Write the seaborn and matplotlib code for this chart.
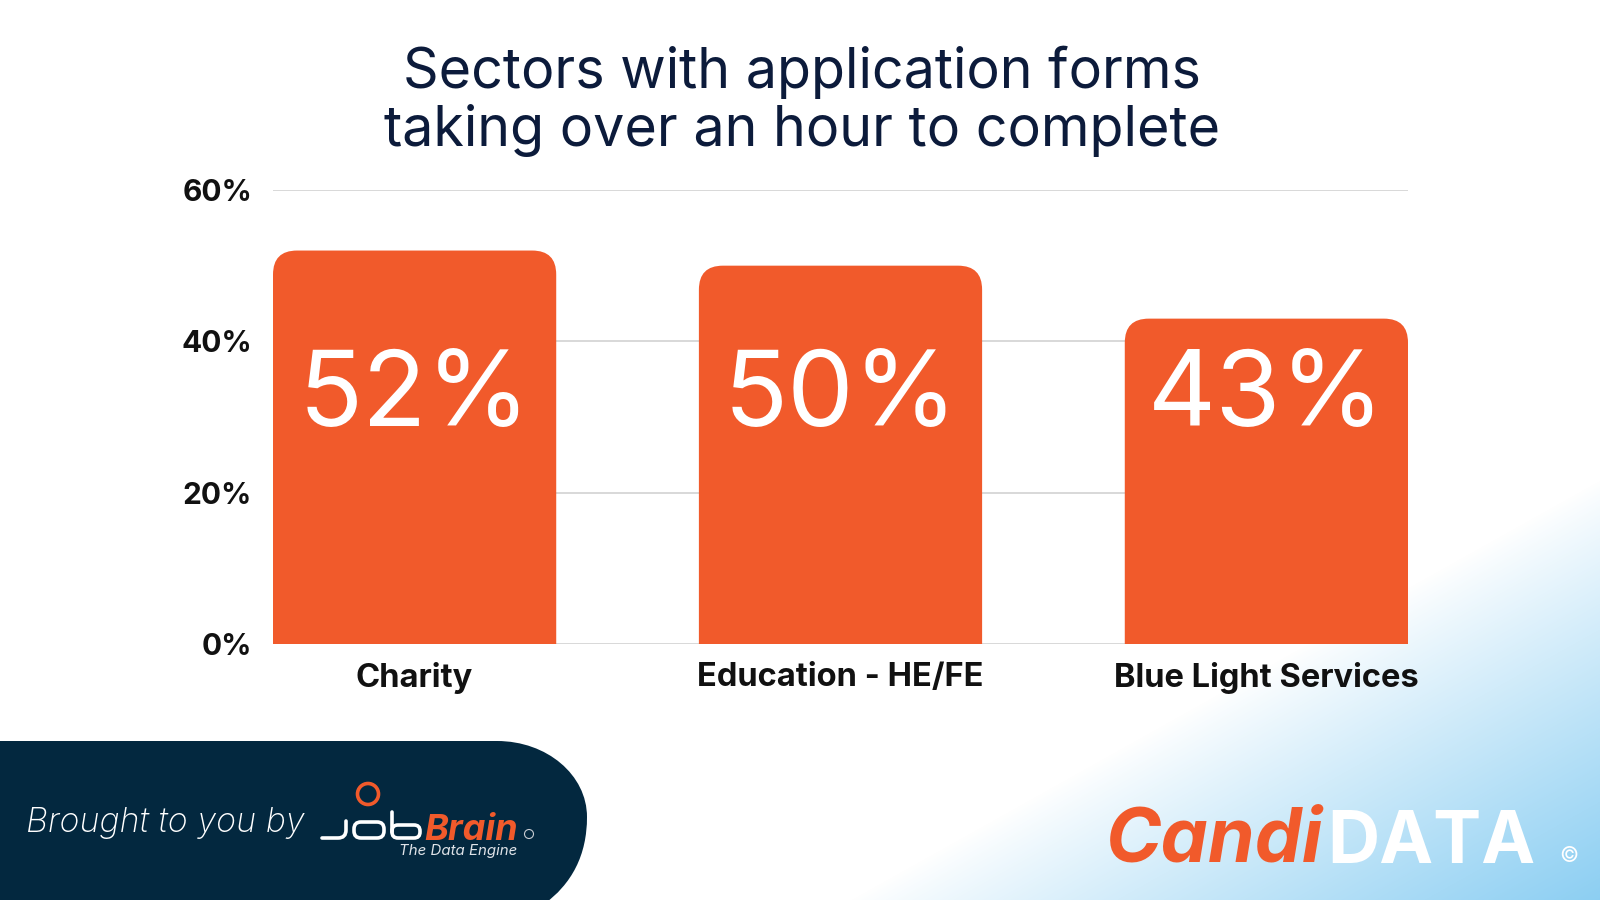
# libraries
import seaborn as sns
import matplotlib.pyplot as plt
import pandas as pd
import numpy as np
from matplotlib.patches import FancyBboxPatch, PathPatch, Circle
from matplotlib.path import Path

# data
sectors = ["Charity", "Education - HE/FE", "Blue Light Services"]
shares = [52, 50, 43]
y_ticks = [0, 20, 40, 60]
title_lines = ["Sectors with application forms", "taking over an hour to complete"]

orange = "#F15A2B"
navy = "#03283F"
title_color = "#0C1B3B"

df = pd.DataFrame({"sector": sectors, "share": shares})

sns.set_theme(style="white")
plt.rcParams['font.family'] = ['Inter', 'DejaVu Sans']

W, H = 1600, 900
fig = plt.figure(figsize=(16, 9), dpi=100)

# background: white with a light blue corner in the bottom right
bg = fig.add_axes([0, 0, 1, 1], zorder=-10)
yy, xx = np.mgrid[0:H, 0:W]
t = ((xx - 850) * 0.489 + (yy - 900) * 0.873) / 367
t = np.clip(t, 0, 1) ** 0.9
blue = np.array([0.55, 0.81, 0.95])
img = 1 - (1 - blue)[None, None, :] * t[:, :, None]
bg.imshow(img, extent=(0, W, H, 0), aspect="auto")
bg.set_xlim(0, W)
bg.set_ylim(H, 0)
bg.axis("off")

# navy banner, bottom left
verts = [(0, 741), (497, 741), (547, 741), (587, 775), (587, 817),
         (587, 855), (572, 884), (543, 905), (0, 905), (0, 741)]
codes = [Path.MOVETO, Path.LINETO, Path.CURVE4, Path.CURVE4, Path.CURVE4,
         Path.CURVE4, Path.CURVE4, Path.CURVE4, Path.LINETO, Path.CLOSEPOLY]
bg.add_patch(PathPatch(Path(verts, codes), fc=navy, ec="none"))

bg.text(26, 832, "Brought to you by", color="white", fontsize=24.5, style="italic",
        fontweight="light", va="baseline", ha="left")

# JobBrain logo
lw = 2.6
bg.add_patch(PathPatch(Path([(322, 838), (338, 838), (346, 838), (346, 830), (346, 821)],
                            [Path.MOVETO, Path.LINETO, Path.CURVE3, Path.CURVE3, Path.LINETO]),
                       fc="none", ec="white", lw=lw, capstyle="round"))
bg.add_patch(FancyBboxPatch((354, 822), 30, 16, boxstyle="round,pad=0,rounding_size=7",
                            fc="none", ec="white", lw=lw))
bg.plot([392, 392], [812, 832], color="white", lw=lw, solid_capstyle="round")
bg.add_patch(FancyBboxPatch((392, 825), 28, 13, boxstyle="round,pad=0,rounding_size=6",
                            fc="none", ec="white", lw=lw))
bg.add_patch(Circle((368, 794), 10.5, fc="none", ec=orange, lw=2.6))
bg.text(424, 840, "Brain", color=orange, fontsize=26, fontweight="bold", style="italic",
        va="baseline", ha="left")
bg.add_patch(Circle((529, 834), 4.5, fc="none", ec="#c8ccd2", lw=0.8))
bg.text(399, 855, "The Data Engine", color="#dfe3e8", fontsize=10.8, style="italic",
        va="baseline", ha="left")

# Candidata logo
candi = bg.text(1106, 862, "Candi", color=orange, fontsize=54, fontweight="bold",
                style="italic", va="baseline", ha="left")
bg.annotate("DATA", xy=(1, 0), xycoords=candi, xytext=(3, 0), textcoords="offset points",
            color="white", fontsize=52, fontweight="bold", va="bottom", ha="left")
bg.text(1569, 862, "©", color="white", fontsize=15, va="baseline", ha="center")

# title
fig.text(802, H - 88, title_lines[0], transform=None, fontsize=40, color=title_color,
         ha="center", va="baseline")
fig.text(802, H - 146, title_lines[1], transform=None, fontsize=40, color=title_color,
         ha="center", va="baseline")

# chart axes
left, right, top, bottom = 273, 1408, 190, 644
ax = fig.add_axes([left / W, (H - bottom) / H, (right - left) / W, (bottom - top) / H])
ax.set_facecolor("none")

bar_width = 0.665
sns.barplot(data=df, x="sector", y="share", color=orange, saturation=1,
            width=bar_width, ax=ax, zorder=2)
ax.set_xlim(-bar_width / 2, len(sectors) - 1 + bar_width / 2)
ax.set_ylim(0, 60)

# rounded top corners for the bars
px_x = (right - left) / (ax.get_xlim()[1] - ax.get_xlim()[0])
px_y = (bottom - top) / 60
radius_px = 24
rx = radius_px / px_x
ry = radius_px / px_y
for bar in list(ax.patches):
    x0, w, h = bar.get_x(), bar.get_width(), bar.get_height()
    bar.remove()
    ax.add_patch(FancyBboxPatch((x0, -ry), w, h + ry,
                                boxstyle=f"round,pad=0,rounding_size={rx}",
                                mutation_aspect=ry / rx, fc=orange, ec="none", zorder=2))

# value labels inside the bars
for i, v in enumerate(shares):
    ax.text(i, 28.8, f"{v}%", ha="center", va="baseline", color="white",
            fontsize=76, fontweight="normal", zorder=3)

ax.set_yticks(y_ticks)
ax.set_yticklabels([f"{v}%" for v in y_ticks], fontsize=21.5, fontweight="bold", color="#111111")
ax.set_xticks(range(len(sectors)))
ax.set_xticklabels(sectors, fontsize=23.5, fontweight="bold", color="#111111")
ax.tick_params(axis="y", length=0, pad=15)
ax.tick_params(axis="x", length=0, pad=13)
ax.set_xlabel("")
ax.set_ylabel("")
ax.yaxis.grid(True, color="#d2d2d2", lw=1.2)
ax.set_axisbelow(True)
sns.despine(ax=ax, left=True, bottom=True)

fig.savefig("out.png", dpi=100)
